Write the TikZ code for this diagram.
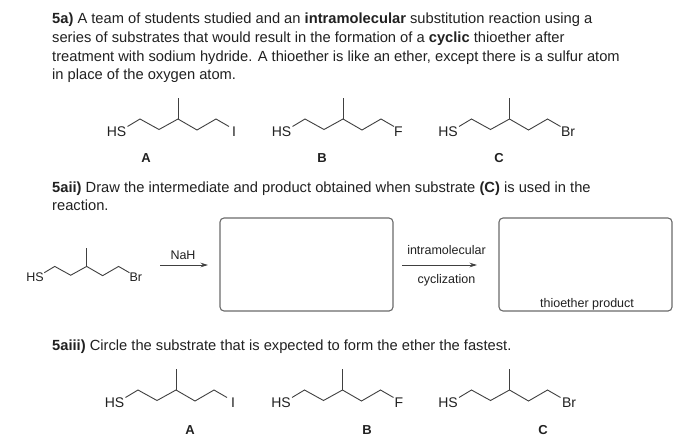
\documentclass[tikz,border=0pt]{standalone}
\usepackage{fontspec}
\setmainfont{Liberation Sans}
\usetikzlibrary{arrows.meta}
\definecolor{ink}{gray}{0.13}
\definecolor{bondc}{gray}{0.25}
\definecolor{boxc}{gray}{0.42}
\tikzset{
  txt/.style={font=\fontsize{14.7}{18.7}\selectfont,text=ink,align=left,anchor=north west,inner sep=0pt},
  atom/.style={font=\fontsize{14}{16}\selectfont,text=ink,inner sep=0pt},
  atomsm/.style={font=\fontsize{12.5}{14}\selectfont,text=ink,inner sep=0pt},
  lab/.style={font=\fontsize{13}{15}\selectfont\bfseries,text=ink,inner sep=0pt},
  rgt/.style={font=\fontsize{12.5}{14}\selectfont,text=ink,inner sep=0pt},
  bond/.style={draw=bondc,line width=0.9pt,line join=miter},
  ansbox/.style={draw=boxc,line width=1.1pt,rounded corners=4pt},
  rxn/.style={draw=bondc,line width=0.8pt,-{Stealth[length=7.5pt,width=4.5pt]}}
}
% #1 prefix, #2 HS x, #3 HS y, #4 halogen, #5 halogen dx, #6 scale, #7 atom style
\newcommand{\molec}[7]{%
  \begin{scope}[shift={(#2,#3)},x=#6pt,y=-#6pt]
    \node[#7] (#1hs) at (0,0.5) {HS};
    \node[#7] (#1x) at (#5,0.5) {#4};
    \coordinate (#1s) at (11,-4.5);
    \coordinate (#1a) at (23.5,-12);
    \coordinate (#1b) at (42.5,-1.5);
    \coordinate (#1c) at (61.5,-12);
    \coordinate (#1m) at (61.5,-33.5);
    \coordinate (#1d) at (80.5,-1);
    \coordinate (#1e) at (99.5,-12);
    \coordinate (#1f) at (112.5,-4.5);
    \draw[bond] (#1s) -- (#1a) -- (#1b) -- (#1c) -- (#1d) -- (#1e) -- (#1f);
    \draw[bond] (#1c) -- (#1m);
  \end{scope}}
\begin{document}
\begin{tikzpicture}[x=1pt,y=-1pt]
\useasboundingbox (0,0) rectangle (700,447);
\fill[white] (0,0) rectangle (700,447);
\node[txt] (intro) at (52,13) {\textbf{5a)} A team of students studied and an \textbf{intramolecular} substitution reaction using a\\
series of substrates that would result in the formation of a \textbf{cyclic} thioether after\\
treatment with sodium hydride. A thioether is like an ether, except there is a sulfur atom\\
in place of the oxygen atom.};
\molec{a}{116.5}{131}{I}{117.5}{1}{atom}
\molec{b}{281.5}{131}{F}{117}{1}{atom}
\molec{c}{448}{131}{Br}{120}{1}{atom}
\node[lab] (la) at (146,158.5) {A};
\node[lab] (lb) at (322,158.5) {B};
\node[lab] (lc) at (499,158.5) {C};
\node[txt] (q2) at (52,181.2) {\textbf{5aii)} Draw the intermediate and product obtained when substrate \textbf{(C)} is used in the\\
reaction.};
\molec{r}{35}{276.5}{Br}{120}{0.84}{atomsm}
\node[ansbox,minimum width=173pt,minimum height=93pt,inner sep=0pt] (box1) at (306.5,264.5) {};
\node[ansbox,minimum width=173pt,minimum height=93pt,inner sep=0pt] (box2) at (585.5,264.5) {};
\coordinate (n1s) at (160,265);
\coordinate (n1e) at (208,265);
\draw[rxn] (n1s) -- (n1e);
\node[rgt] (nah) at (183,255.5) {NaH};
\coordinate (n2s) at (402,265);
\coordinate (n2e) at (477,265);
\draw[rxn] (n2s) -- (n2e);
\node[rgt] (intra) at (446.5,250.5) {intramolecular};
\node[rgt] (cyc) at (446.5,280) {cyclization};
\node[rgt] (thio) at (587,304) {thioether product};
\node[txt] (q3) at (52,339.5) {\textbf{5aiii)} Circle the substrate that is expected to form the ether the fastest.};
\molec{d}{114.5}{402}{I}{118.5}{1}{atom}
\molec{e}{281}{402}{F}{118}{1}{atom}
\molec{f}{448}{402}{Br}{121}{1}{atom}
\node[lab] (ld) at (190,430.5) {A};
\node[lab] (le) at (367,430.5) {B};
\node[lab] (lf) at (543,430.5) {C};
\end{tikzpicture}
\end{document}
